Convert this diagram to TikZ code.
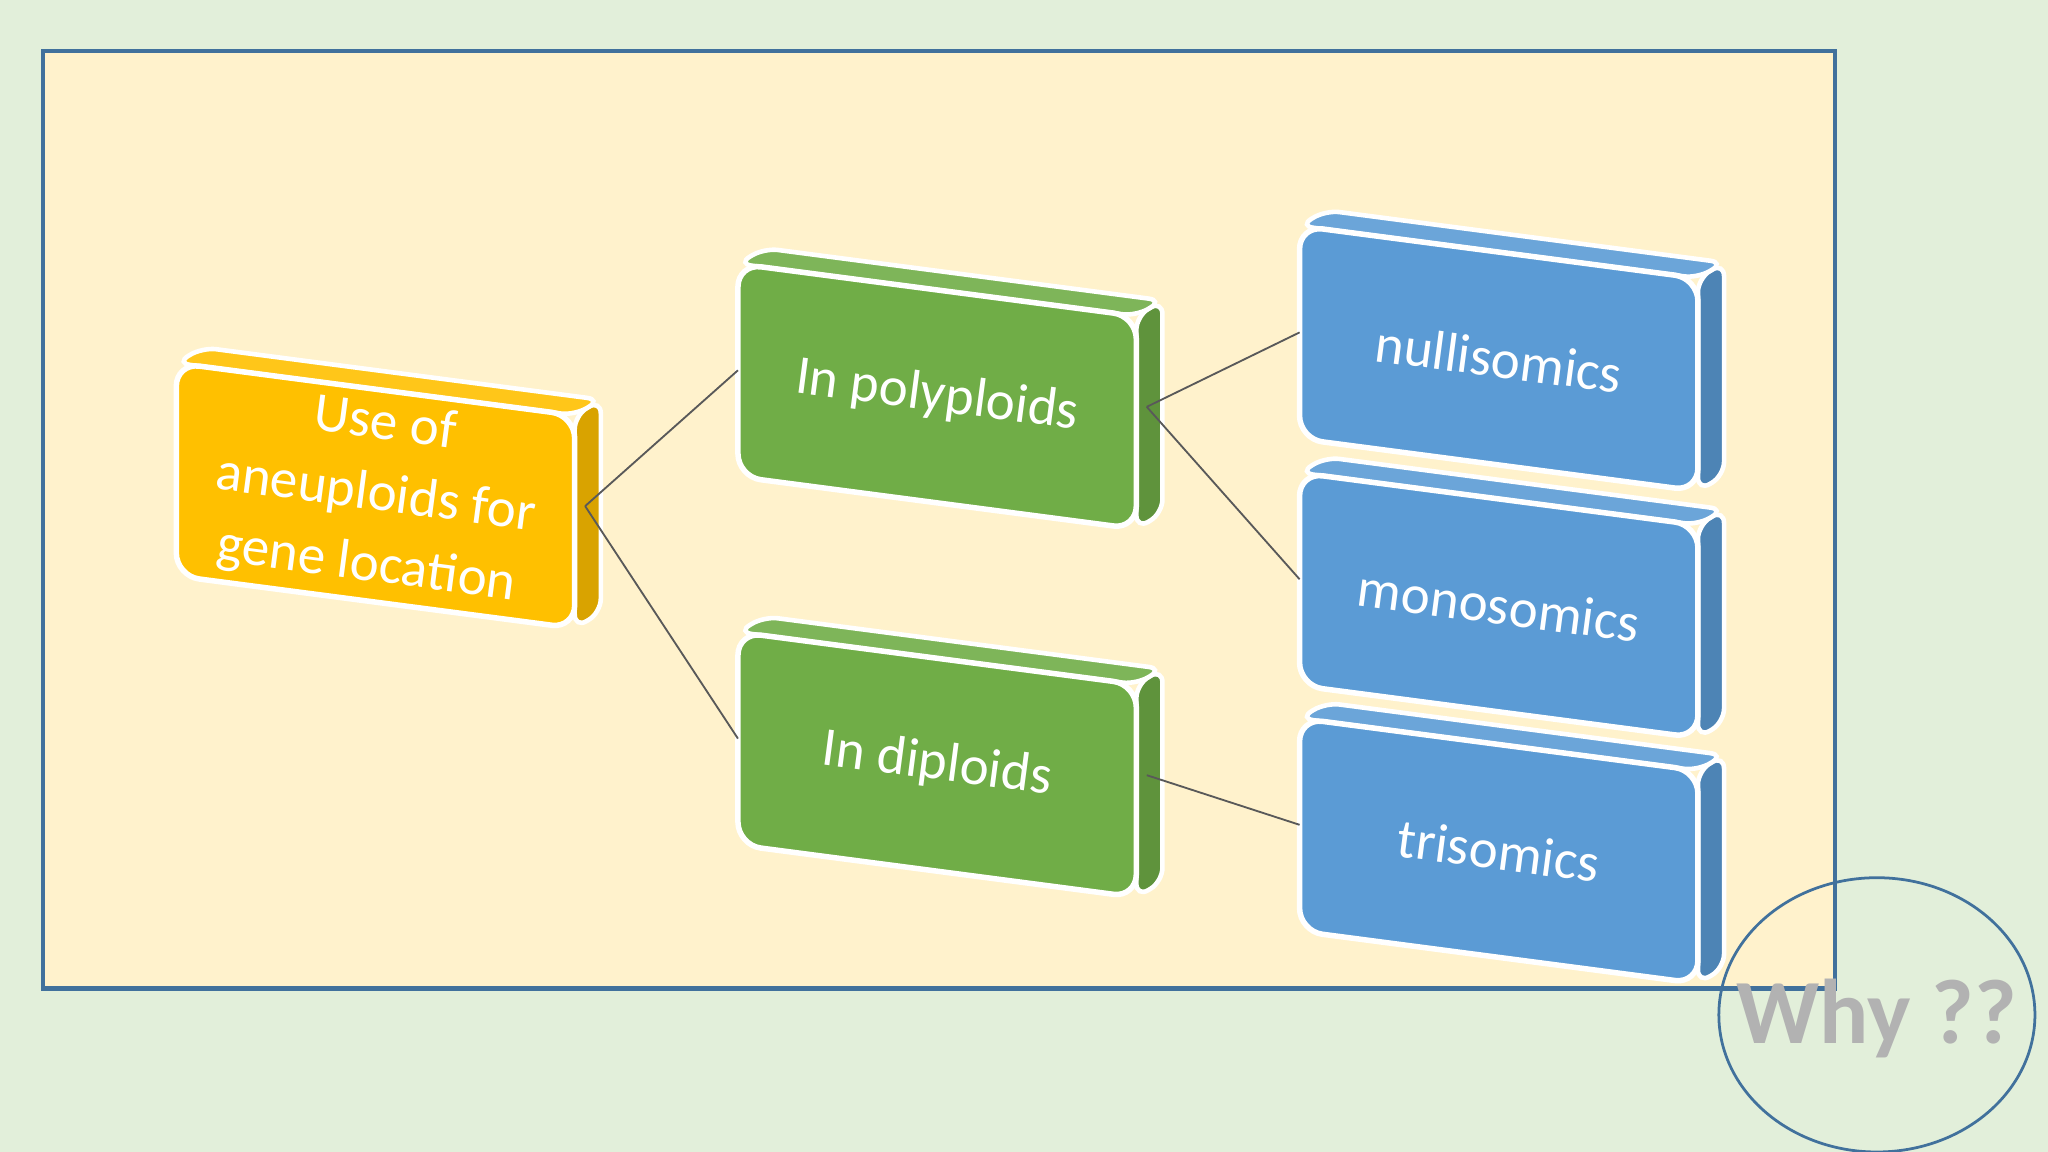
\documentclass[tikz,border=0pt]{standalone}
\usepackage{fontspec}
\setmainfont{Carlito}
\usetikzlibrary{calc}

\definecolor{bgpage}{HTML}{E2EFDA}
\definecolor{bgframe}{HTML}{FFF2CC}
\definecolor{framecol}{HTML}{41719C}
\definecolor{slabyellow}{HTML}{FFC000}
\definecolor{slabgreen}{HTML}{70AD47}
\definecolor{slabblue}{HTML}{5B9BD5}

\tikzset{
  slab label/.style={text=white,align=center,rotate=-7.5,font=\fontsize{12}{15.5}\selectfont},
  link/.style={gray!70!black,line width=0.4pt}
}

% slab: name, x, y (top left of front face), colour, text
\newcommand{\slab}[5]{%
  \coordinate (#1-tl) at (#2,#3);
  \coordinate (#1-tr) at ($(#1-tl)+(305,40)$);
  \coordinate (#1-br) at ($(#1-tr)+(0,163)$);
  \coordinate (#1-bl) at ($(#1-tl)+(0,163)$);
  \coordinate (#1-tl2) at ($(#1-tl)+(20,-12)$);
  \coordinate (#1-tr2) at ($(#1-tr)+(20,-12)$);
  \coordinate (#1-br2) at ($(#1-br)+(20,-12)$);
  \filldraw[fill=#4!85!black,draw=white,line width=1pt,rounded corners=3pt]
    (#1-tr) -- (#1-tr2) -- (#1-br2) -- (#1-br) -- cycle;
  \filldraw[fill=#4!90!white,draw=white,line width=1pt,rounded corners=3pt]
    (#1-tl) -- (#1-tl2) -- (#1-tr2) -- (#1-tr) -- cycle;
  \filldraw[fill=#4,draw=white,line width=1.2pt,rounded corners=5pt]
    (#1-tl) -- (#1-tr) -- (#1-br) -- (#1-bl) -- cycle;
  \node[slab label] (#1) at ($(#1-tl)!0.5!(#1-br)$) {#5};
  \coordinate (#1-in) at ($(#1-tl)!0.5!(#1-bl)$);
  \coordinate (#1-out) at ($(#1-tr2)!0.5!(#1-br2)+(-12,0)$);
}

\begin{document}
\begin{tikzpicture}[x=0.01cm,y=-0.01cm]

% page
\fill[bgpage] (0,0) rectangle (1568,882);
\useasboundingbox (0,0) rectangle (1568,882);

% frame
\filldraw[fill=bgframe,draw=framecol,line width=1pt] (33,39) rectangle (1405,757);

% slabs
\slab{use}{135}{278}{slabyellow}{Use of\\aneuploids for\\gene location}
\slab{poly}{565}{202}{slabgreen}{In polyploids}
\slab{dipl}{565}{484}{slabgreen}{In diploids}
\slab{nulli}{995}{173}{slabblue}{nullisomics}
\slab{mono}{995}{362}{slabblue}{monosomics}
\slab{tri}{995}{550}{slabblue}{trisomics}

% connectors
\draw[link] (use-out) -- (poly-in);
\draw[link] (use-out) -- (dipl-in);
\draw[link] (poly-out) -- ($(nulli-tl)!0.5!(nulli-bl)$);
\draw[link] (poly-out) -- ($(mono-tl)!0.5!(mono-bl)$);
\draw[link] (dipl-out) -- ($(tri-tl)!0.5!(tri-bl)$);

% why
\draw[framecol,line width=0.6pt] (1437,777) ellipse (121 and 105);
\node[font=\fontsize{20}{20}\selectfont\bfseries,text=gray!60] (why) at (1437,780) {Why ??};

\end{tikzpicture}
\end{document}
